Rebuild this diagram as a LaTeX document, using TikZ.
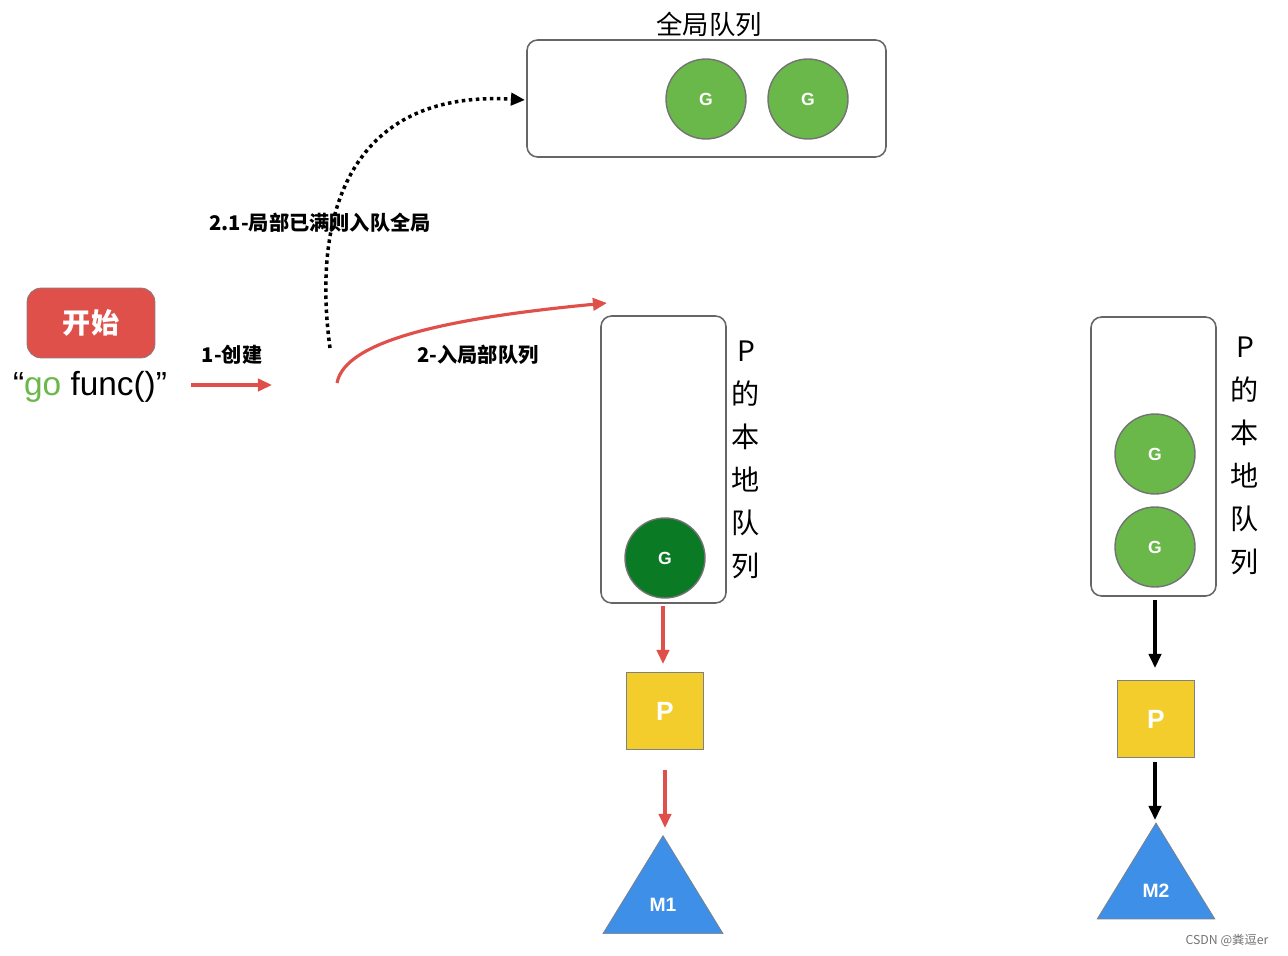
\documentclass[tikz,border=0pt]{standalone}
\usepackage{fontspec}
\setmainfont{Liberation Sans}
\newfontfamily\cjk{Noto Sans CJK SC}
\usetikzlibrary{arrows.meta,shapes.geometric}
\definecolor{gg}{HTML}{6AB74A}
\definecolor{dg}{HTML}{0A7A24}
\definecolor{rd}{HTML}{E0504A}
\definecolor{yl}{HTML}{F2CD2C}
\definecolor{bl}{HTML}{3D8FE8}
\begin{document}
\begin{tikzpicture}[x=0.02cm,y=-0.02cm,
 box/.style={draw=black!60,rounded corners=6pt,line width=0.9pt},
 g/.style={circle,minimum size=1.6cm,inner sep=0,draw=black!55,line width=0.8pt,fill=gg,text=white,font=\bfseries\fontsize{10}{10}\selectfont},
 pb/.style={draw=black!50,fill=yl,minimum size=1.55cm,inner sep=0,text=white,font=\bfseries\fontsize{15}{15}\selectfont},
 lbl/.style={font=\cjk\bfseries\fontsize{11.5}{11.5}\selectfont},
 vt/.style={font=\cjk\fontsize{16}{24.5}\selectfont,align=center},
 ra/.style={-{Triangle[length=8pt,width=7pt]},draw=rd,line width=1.8pt},
 ba/.style={-{Triangle[length=8pt,width=7pt]},draw=black,line width=1.8pt}]
\useasboundingbox (0,0) rectangle (1288,956);
% global queue
\draw[box] (527,40) rectangle (886,157);
\node[font=\cjk\fontsize{15}{15}\selectfont] (gt) at (709,24) {全局队列};
\node[g] (g1) at (706,99) {G};
\node[g] (g2) at (808,99) {G};
\coordinate (gin) at (525,100);
% start
\node[draw=black!50,fill=rd,rounded corners=8pt,minimum width=2.56cm,minimum height=1.4cm,text=white,font=\cjk\bfseries\fontsize{16}{16}\selectfont] (start) at (91,323) {开始};
\node[font=\fontsize{19}{19}\selectfont] (go) at (90,387) {“\textcolor{gg}{go} func()”};
\coordinate (a1s) at (191,385); \coordinate (a1e) at (272,385);
\draw[ra] (a1s) -- (a1e);
\node[lbl] (l1) at (232,355) {1-创建};
\coordinate (cs) at (337,383); \coordinate (ce) at (607,303);
\draw[ra] (cs) .. controls (345,340) and (450,318) .. (ce);
\node[lbl] (l2) at (478,355) {2-入局部队列};
\coordinate (ds) at (330,348);
\draw[line width=2pt,dotted,-{Triangle[length=8pt,width=7pt]}] (ds) .. controls (310,200) and (360,90) .. (gin);
\node[lbl] (l3) at (320,223) {2.1-局部已满则入队全局};
% P1
\draw[box] (601,316) rectangle (726,603);
\node[g,fill=dg] (g3) at (665,558) {G};
\node[vt] (v1) at (746,460) {P\\的\\本\\地\\队\\列};
\node[pb] (p1) at (665,711) {P};
\node[draw=black!50,fill=bl,isosceles triangle,isosceles triangle apex angle=63,shape border rotate=90,minimum height=1.96cm,inner sep=0] (m1) at (663,900) {};
\node[text=white,font=\bfseries\fontsize{11}{11}\selectfont] (m1t) at (663,905) {M1};
\coordinate (b1) at (663,606); \coordinate (b1e) at (663,664);
\draw[ra] (b1) -- (b1e);
\coordinate (b2) at (665,770); \coordinate (b3) at (665,828);
\draw[ra] (b2) -- (b3);
% P2
\draw[box] (1091,317) rectangle (1216,596);
\node[g] (g4) at (1155,454) {G};
\node[g] (g5) at (1155,547) {G};
\node[vt] (v2) at (1245,456) {P\\的\\本\\地\\队\\列};
\node[pb] (p2) at (1156,719) {P};
\node[draw=black!50,fill=bl,isosceles triangle,isosceles triangle apex angle=63,shape border rotate=90,minimum height=1.92cm,inner sep=0] (m2) at (1156,886) {};
\node[text=white,font=\bfseries\fontsize{11}{11}\selectfont] (m2t) at (1156,891) {M2};
\coordinate (c1) at (1155,600); \coordinate (c1e) at (1155,668);
\draw[ba] (c1) -- (c1e);
\coordinate (c2) at (1155,762); \coordinate (c3) at (1155,820);
\draw[ba] (c2) -- (c3);
\node[text=black!55,font=\cjk\fontsize{7}{7}\selectfont] (wm) at (1227,940) {CSDN @粪逗er};
\end{tikzpicture}
\end{document}
